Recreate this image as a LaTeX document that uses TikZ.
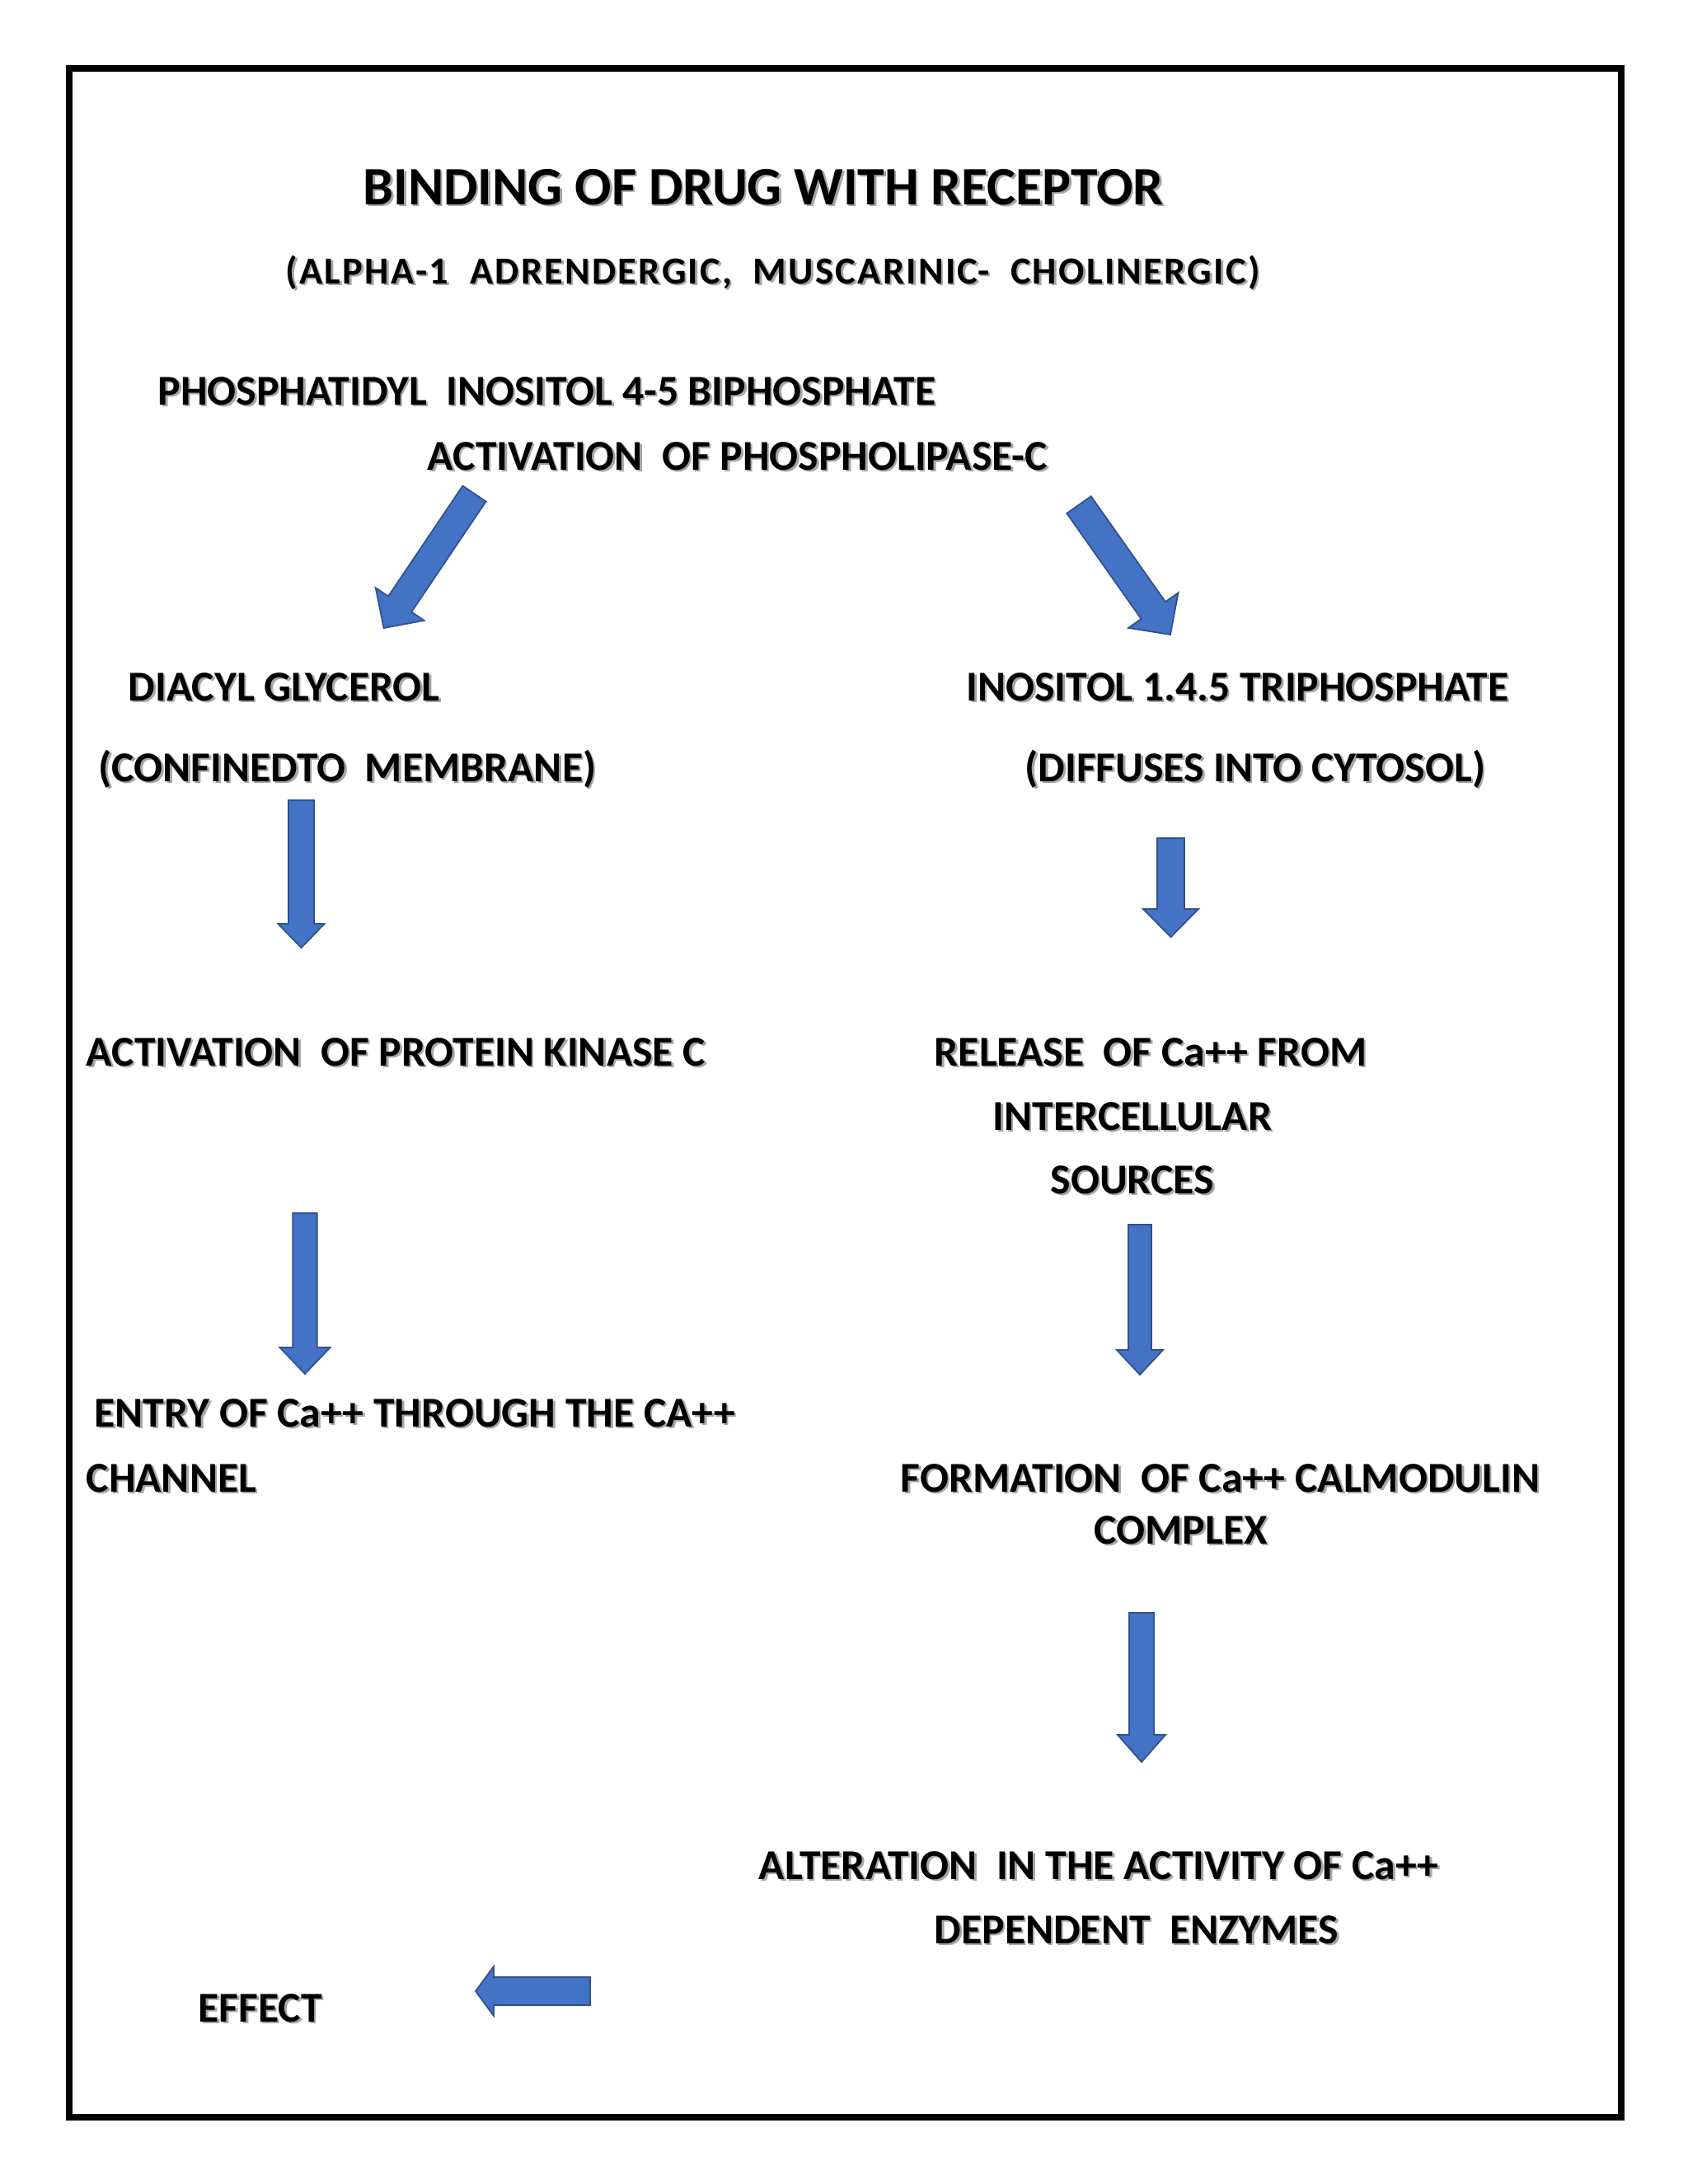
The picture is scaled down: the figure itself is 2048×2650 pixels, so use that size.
\documentclass[tikz,border=0pt]{standalone}
\usepackage{fontspec}
\setmainfont{Carlito}
\newfontfamily\spacedfont{Carlito}[LetterSpace=5]
\usetikzlibrary{calc}

\definecolor{arrowblue}{HTML}{4472C4}
\definecolor{arrowedge}{HTML}{2F528F}

% text with a soft grey shadow, as in the original
\newcommand{\shd}[1]{\makebox[0pt][l]{\kern0.7pt\raisebox{-0.7pt}{\textcolor{black!35}{#1}}}#1}

% block arrow: tail, tip, half shaft width, half head width, head length (px)
\newcommand{\blkarrow}[5]{%
  \coordinate (hb) at ($(#2)!#5*0.01cm!(#1)$);
  \draw[blk] ($(#1)!#3*0.01cm!90:(#2)$) -- ($(hb)!#3*0.01cm!90:(#2)$)
    -- ($(hb)!#4*0.01cm!90:(#2)$) -- (#2)
    -- ($(hb)!#4*0.01cm!-90:(#2)$) -- ($(hb)!#3*0.01cm!-90:(#2)$)
    -- ($(#1)!#3*0.01cm!-90:(#2)$) -- cycle;}

\tikzset{
  lbl/.style={anchor=base west, inner sep=0pt, font=\fontsize{14.7}{17}\selectfont\bfseries},
  ttl/.style={lbl, font=\fontsize{18.7}{22}\selectfont\bfseries},
  sub/.style={lbl, font=\spacedfont\fontsize{13.2}{16}\selectfont\bfseries},
  blk/.style={fill=arrowblue, draw=arrowedge, line width=0.5pt, line join=miter}
}

\begin{document}
\begin{tikzpicture}[x=0.01cm, y=-0.01cm]
        \useasboundingbox (0,0) rectangle (2048,2650);
        \fill[white] (0,0) rectangle (2048,2650);
        \draw[line width=2.3pt] (84,83) rectangle (1967,2569);
        % headings
        \node[ttl] (title) at (440,248) {\shd{BINDING OF DRUG WITH RECEPTOR}};
        \node[sub] (receptors) at (346,344) {\shd{(ALPHA-1\ \ ADRENDERGIC,\ \ MUSCARINIC-\ \ CHOLINERGIC)}};
        \node[lbl] (pip) at (191,491) {\shd{PHOSPHATIDYL\ \ INOSITOL 4-5 BIPHOSPHATE}};
        \node[lbl] (plc) at (518,570) {\shd{ACTIVATION\ \ OF PHOSPHOLIPASE-C}};
        % left branch
        \node[lbl] (dag) at (155,850) {\shd{DIACYL GLYCEROL}};
        \node[lbl] (dagnote) at (119,948) {\shd{(CONFINEDTO\ \ MEMBRANE)}};
        \node[lbl] (pkc) at (104,1293) {\shd{ACTIVATION\ \ OF PROTEIN KINASE C}};
        \node[lbl] (entry) at (114,1731) {\shd{ENTRY OF Ca++ THROUGH THE CA++}};
        \node[lbl] (entry2) at (104,1810) {\shd{CHANNEL}};
        \node[lbl] (effect) at (240,2453) {\shd{EFFECT}};
        % right branch
        \node[lbl] (ip) at (1172,850) {\shd{INOSITOL 1.4.5 TRIPHOSPHATE}};
        \node[lbl] (ipnote) at (1243,948) {\shd{(DIFFUSES INTO CYTOSOL)}};
        \node[lbl] (release) at (1133,1293) {\shd{RELEASE\ \ OF Ca++ FROM}};
        \node[lbl] (release2) at (1204,1371) {\shd{INTERCELLULAR}};
        \node[lbl] (release3) at (1274,1448) {\shd{SOURCES}};
        \node[lbl] (calm) at (1092,1810) {\shd{FORMATION\ \ OF Ca++ CALMODULIN}};
        \node[lbl] (calm2) at (1327,1873) {\shd{COMPLEX}};
        \node[lbl] (enz) at (920,2280) {\shd{ALTERATION\ \ IN THE ACTIVITY OF Ca++}};
        \node[lbl] (enz2) at (1133,2358) {\shd{DEPENDENT\ \ ENZYMES}};
        % arrow ends
        \coordinate (a1t) at (575.5,599);
        \coordinate (a1h) at (465.6,762);
        \coordinate (a2t) at (1309,612.5);
        \coordinate (a2h) at (1420,770);
        \coordinate (d1t) at (365.5,971);
        \coordinate (d1h) at (365.5,1150);
        \coordinate (d2t) at (1420.5,1017);
        \coordinate (d2h) at (1420.5,1137);
        \coordinate (d3t) at (370,1472);
        \coordinate (d3h) at (370,1667);
        \coordinate (d4t) at (1383,1486);
        \coordinate (d4h) at (1383,1668);
        \coordinate (d5t) at (1385,1957);
        \coordinate (d5h) at (1385,2138);
        \coordinate (l1t) at (716,2416);
        \coordinate (l1h) at (577,2416);
        \blkarrow{a1t}{a1h}{17}{35.5}{35}
        \blkarrow{a2t}{a2h}{18}{37}{36}
        \blkarrow{d1t}{d1h}{15.5}{28}{29}
        \blkarrow{d2t}{d2h}{16.5}{33.5}{34}
        \blkarrow{d3t}{d3h}{14.7}{30.5}{32}
        \blkarrow{d4t}{d4h}{14}{28}{30}
        \blkarrow{d5t}{d5h}{15}{29}{33}
        \blkarrow{l1t}{l1h}{17}{30}{22}
    \end{tikzpicture}
\end{document}
